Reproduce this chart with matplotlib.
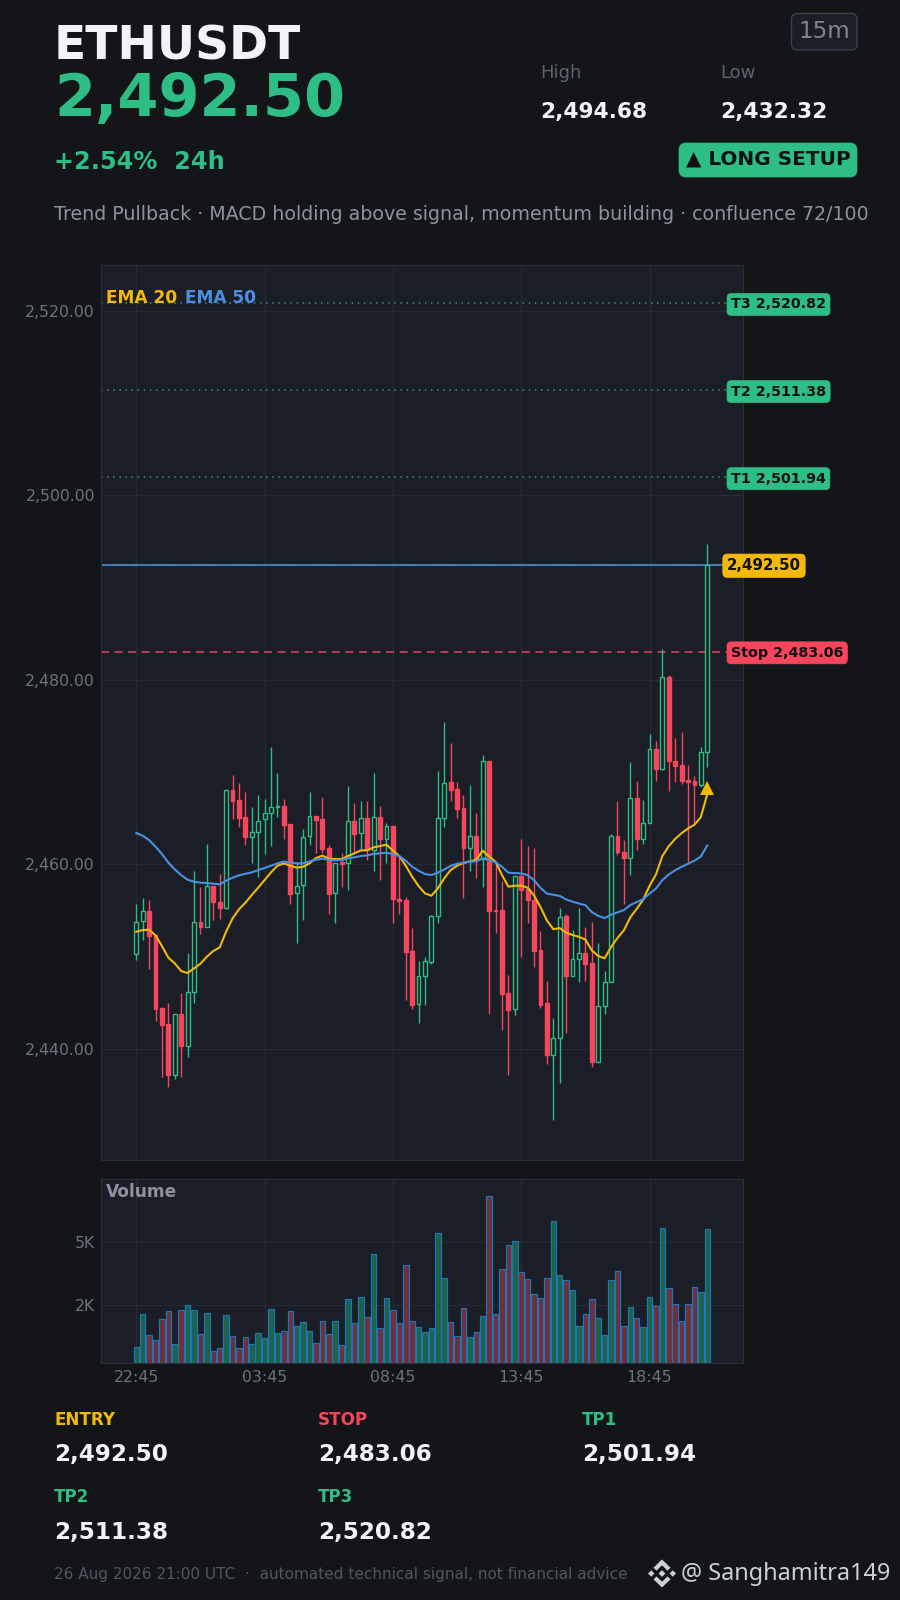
import matplotlib
matplotlib.use("Agg")
import matplotlib.pyplot as plt
from matplotlib.patches import FancyBboxPatch, Polygon
from matplotlib.ticker import FixedLocator, FuncFormatter, NullLocator

# ---------- data ----------
symbol = "ETHUSDT"
last_price = 2492.50
change_text = "+2.54%  24h"
high_24h = 2494.68
low_24h = 2432.32
entry = 2492.50
stop = 2483.06
tp1 = 2501.94
tp2 = 2511.38
tp3 = 2520.82
signal_price = 2468.3
tick_idx = [0, 20, 40, 60, 80]
tick_times = ["22:45", "03:45", "08:45", "13:45", "18:45"]
price_ticks = [2440, 2460, 2480, 2500, 2520]
volume_ticks = [2000, 5000]

opens = [2450.24,2453.82,2454.90,2452.30,2444.38,2442.69,2437.20,2443.77,2440.34,2446.19,
 2453.71,2453.24,2457.61,2455.91,2455.30,2468.05,2466.97,2465.09,2463.00,2463.47,
 2464.87,2465.52,2466.25,2466.28,2464.33,2456.85,2457.72,2463.03,2465.24,2464.91,
 2461.73,2456.85,2460.21,2460.10,2464.66,2463.36,2465.02,2461.55,2465.09,2462.78,
 2464.12,2456.24,2456.13,2450.57,2444.82,2447.86,2449.44,2454.36,2464.98,2468.89,
 2468.12,2466.06,2461.80,2463.07,2460.54,2471.20,2455.04,2455.01,2446.01,2444.28,
 2458.77,2457.30,2456.18,2450.68,2445.00,2439.36,2441.18,2454.38,2447.90,2449.77,
 2450.39,2449.27,2438.61,2444.59,2447.28,2463.05,2461.39,2460.73,2467.16,2462.76,
 2464.50,2472.55,2470.35,2480.27,2471.18,2470.72,2469.15,2469.03,2468.65,2472.14]
closes = [2453.78,2454.90,2452.26,2444.35,2442.62,2437.20,2443.74,2440.34,2446.19,2453.71,
 2453.24,2457.61,2455.95,2455.26,2468.02,2466.90,2465.06,2463.00,2463.47,2464.73,
 2465.52,2466.25,2466.28,2464.30,2456.82,2457.68,2463.00,2465.20,2464.80,2461.69,
 2456.82,2460.18,2460.07,2464.66,2463.32,2464.98,2461.62,2465.09,2462.78,2464.12,
 2456.20,2456.06,2450.53,2444.78,2447.86,2449.48,2454.36,2464.98,2468.85,2468.09,
 2466.03,2461.80,2463.03,2460.54,2471.16,2454.97,2454.97,2445.98,2444.24,2458.77,
 2457.21,2456.16,2450.60,2444.79,2439.32,2441.22,2454.34,2447.90,2449.77,2450.35,
 2449.23,2438.57,2444.59,2447.28,2463.05,2461.39,2460.73,2467.16,2462.76,2464.50,
 2472.55,2470.35,2480.27,2471.18,2470.68,2469.07,2468.90,2468.65,2472.14,2492.50]
highs = [2455.70,2456.38,2456.13,2452.30,2444.38,2444.93,2443.74,2446.08,2450.42,2459.27,
 2457.58,2462.20,2457.61,2458.98,2468.02,2469.72,2468.78,2467.87,2466.25,2467.55,
 2467.08,2472.75,2469.93,2467.11,2464.33,2460.29,2463.86,2467.87,2465.24,2467.33,
 2462.13,2460.18,2461.26,2468.52,2466.68,2466.90,2466.90,2469.93,2466.32,2464.51,
 2464.12,2460.83,2456.42,2453.09,2449.55,2449.92,2454.54,2470.15,2475.46,2473.11,
 2468.89,2467.55,2468.63,2465.52,2471.88,2471.20,2460.10,2458.19,2448.04,2458.77,
 2462.71,2462.01,2461.80,2452.80,2447.36,2443.34,2455.25,2454.63,2452.88,2455.25,
 2453.17,2453.71,2451.43,2448.40,2463.34,2466.91,2462.63,2471.14,2469.07,2466.99,
 2474.13,2473.42,2483.38,2480.56,2473.71,2474.38,2470.73,2469.61,2472.76,2494.68]
lows = [2449.63,2451.79,2448.61,2442.98,2436.98,2435.82,2436.69,2436.98,2439.07,2444.93,
 2452.41,2453.24,2453.96,2454.03,2455.12,2464.87,2464.08,2462.06,2460.10,2458.59,
 2461.08,2461.98,2465.09,2462.71,2455.66,2451.43,2453.96,2462.06,2461.19,2461.19,
 2454.58,2453.60,2457.50,2457.21,2461.37,2461.55,2460.47,2459.31,2458.30,2460.10,
 2453.60,2454.61,2445.29,2444.28,2442.76,2444.71,2449.16,2453.60,2464.01,2466.83,
 2464.98,2456.31,2459.31,2458.48,2457.50,2443.74,2452.52,2442.04,2437.12,2443.63,
 2449.92,2453.59,2448.82,2444.46,2438.40,2432.32,2436.29,2441.76,2447.90,2447.28,
 2447.36,2438.07,2438.61,2443.75,2447.28,2460.98,2455.66,2458.82,2461.60,2462.22,
 2464.50,2469.07,2470.19,2467.90,2468.94,2468.73,2460.23,2464.29,2468.36,2470.52]
ema20 = [2452.70,2452.88,2452.91,2452.30,2451.14,2449.88,2449.26,2448.43,2448.22,2448.72,
 2449.23,2449.99,2450.60,2451.00,2452.70,2454.14,2455.12,2455.84,2456.67,2457.47,
 2458.30,2459.13,2459.85,2460.10,2459.85,2459.64,2459.74,2460.10,2460.68,2460.94,
 2460.61,2460.57,2460.57,2460.90,2461.19,2461.51,2461.51,2461.84,2461.98,2462.13,
 2461.48,2460.90,2459.85,2458.66,2457.65,2456.85,2456.60,2457.39,2458.48,2459.38,
 2459.85,2460.14,2460.32,2460.50,2461.48,2460.83,2460.29,2458.84,2457.58,2457.68,
 2457.68,2457.47,2456.62,2455.37,2453.92,2452.97,2453.09,2452.59,2452.34,2452.14,
 2451.85,2450.68,2450.06,2449.81,2451.02,2452.01,2452.84,2454.25,2455.17,2456.16,
 2457.66,2458.90,2460.89,2461.97,2462.76,2463.38,2463.88,2464.29,2465.12,2467.61]
ema50 = [2463.39,2463.10,2462.63,2461.91,2461.12,2460.18,2459.45,2458.84,2458.33,2458.12,
 2458.01,2457.97,2457.90,2457.83,2458.23,2458.55,2458.80,2458.98,2459.13,2459.38,
 2459.60,2459.85,2460.10,2460.29,2460.21,2460.10,2460.10,2460.32,2460.50,2460.61,
 2460.47,2460.43,2460.47,2460.65,2460.76,2460.90,2460.97,2461.12,2461.19,2461.26,
 2461.12,2460.90,2460.39,2459.74,2459.31,2458.95,2458.84,2459.09,2459.45,2459.82,
 2460.07,2460.18,2460.29,2460.32,2460.65,2460.47,2460.21,2459.74,2459.09,2459.05,
 2459.02,2458.84,2458.28,2457.45,2456.83,2456.70,2456.58,2456.20,2455.95,2455.75,
 2455.58,2454.83,2454.42,2454.17,2454.54,2454.79,2455.04,2455.58,2455.91,2456.20,
 2456.83,2457.37,2458.28,2458.90,2459.36,2459.73,2460.06,2460.39,2460.85,2462.05]
volumes = [1086,1754,1293,1202,1632,1833,1134,1860,2000,1860,
 1312,1781,1024,1070,1729,1274,1070,1256,1134,1331,
 1238,1887,1331,1370,1833,1474,1562,1370,1151,1585,
 1312,1585,1118,2182,1539,2247,1680,4200,1431,2214,
 1860,1539,3579,1585,1452,1350,1431,5698,2963,1562,
 1274,1915,1256,1350,1704,9760,1754,3377,4787,5074,
 3232,2921,2347,2214,2963,6788,3094,2878,2488,1474,
 1754,2182,1656,1293,2878,3279,1474,1942,1656,1452,
 2247,1971,6129,2561,2029,1585,2029,2598,2416,6040]

# ---------- style ----------
BG = "#131519"
PANEL = "#1b1e26"
GRID = "#272b33"
BORDER = "#2b2f38"
GREEN = "#2ebd85"
RED = "#f6465d"
GOLD = "#f0b90b"
BLUE = "#4a90e2"
GREY = "#8b93a1"
DIM = "#5c6370"
WHITE = "#f1f3f6"
TICK = "#6b7280"
DARK = "#0f1115"
plt.rcParams["font.family"] = ["DejaVu Sans"]
W, H = 900, 1600
pt = lambda px: px * 0.72

fig = plt.figure(figsize=(W / 100, H / 100), dpi=100, facecolor=BG)

def panel(l, t, r, b):
    ax = fig.add_axes([l / W, 1 - b / H, (r - l) / W, (b - t) / H], facecolor=PANEL)
    for s in ax.spines.values():
        s.set_color(BORDER)
        s.set_linewidth(0.8)
    ax.tick_params(length=0, colors=TICK)
    ax.set_axisbelow(True)
    ax.grid(True, color=GRID, lw=0.9)
    return ax

XMIN, XMAX = -5.58, 94.57
x = list(range(len(opens)))
bar_w = 0.6

# ---------- price panel ----------
ax = panel(100.5, 264.5, 743, 1160)
ax.set_xlim(XMIN, XMAX)
ax.set_ylim(2427.95, 2525.02)
ax.set_xticks(tick_idx)
ax.set_xticklabels([])
ax.set_yticks(price_ticks)
ax.set_yticklabels([f"{v:,.2f}" for v in price_ticks], fontsize=pt(15.8))
ax.tick_params(axis="y", pad=4)

for lvl in (tp1, tp2, tp3):
    ax.axhline(lvl, color=GREEN, lw=1.1, ls=(0, (1, 3)), alpha=0.8, zorder=2)
ax.axhline(entry, color=GOLD, lw=0.8, ls=(0, (5, 4)), alpha=0.35, zorder=2)
ax.axhline(stop, color=RED, lw=1.15, ls=(0, (5, 3.5)), alpha=0.9, zorder=2)
ax.axhline(last_price, color=BLUE, lw=1.2, alpha=0.95, zorder=2)

for i in x:
    up = closes[i] >= opens[i]
    c = GREEN if up else RED
    ax.vlines(i, lows[i], highs[i], color=c, lw=1.0, zorder=3)
    lo, hi = min(opens[i], closes[i]), max(opens[i], closes[i])
    ax.bar(i, hi - lo, bottom=lo, width=bar_w, color=PANEL if up else RED,
           edgecolor=c, linewidth=1.0, zorder=4)

ax.plot(x, ema20, color=GOLD, lw=1.5, zorder=5)
ax.plot(x, ema50, color=BLUE, lw=1.5, zorder=5)
ax.plot([x[-1]], [signal_price], marker="^", ms=9.5, color=GOLD, mew=0, zorder=6)

def tag(price, text, fc, left_px, size=14.2):
    ax.annotate(text, xy=((left_px - 100.5) / 642.5, price),
                xycoords=ax.get_yaxis_transform(), xytext=(0, -0.9),
                textcoords="offset points",
                ha="left", va="center", fontsize=pt(size), fontweight="bold", color=DARK,
                zorder=8, annotation_clip=False,
                bbox=dict(boxstyle="round,pad=0.28,rounding_size=0.3", fc=fc, ec=fc, lw=0.5))

tag(tp3, f"T3 {tp3:,.2f}", GREEN, 731)
tag(tp2, f"T2 {tp2:,.2f}", GREEN, 731)
tag(tp1, f"T1 {tp1:,.2f}", GREEN, 731)
tag(stop, f"Stop {stop:,.2f}", RED, 731)
tag(last_price, f"{last_price:,.2f}", GOLD, 727, size=15)

# ---------- volume panel ----------
vx = panel(100.5, 1179, 743, 1363)
vx.set_yscale("log")
vx.bar(x, volumes, width=0.86,
       color=["#1f6149" if closes[i] >= opens[i] else "#732e3b" for i in x],
       edgecolor="#1b78b8", linewidth=0.85, zorder=3)
vx.set_xlim(XMIN, XMAX)
vx.set_ylim(861, 12500)
vx.yaxis.set_major_locator(FixedLocator(volume_ticks))
vx.yaxis.set_minor_locator(NullLocator())
vx.yaxis.set_major_formatter(FuncFormatter(lambda v, _: f"{v / 1000:.0f}K"))
vx.tick_params(axis="y", labelsize=pt(15.8), pad=4)
vx.set_xticks(tick_idx)
vx.set_xticklabels(tick_times, fontsize=pt(15.8))
vx.tick_params(axis="x", pad=5)

# ---------- overlay (pixel coordinates) ----------
ov = fig.add_axes([0, 0, 1, 1], facecolor="none", zorder=10)
ov.set_xlim(0, W)
ov.set_ylim(H, 0)
ov.axis("off")

def T(px_x, px_y, s, size, color, weight="normal", ha="left", family=None):
    kw = {"family": family} if family else {}
    ov.text(px_x, px_y, s, fontsize=pt(size), color=color, fontweight=weight,
            ha=ha, va="center", **kw)

def box(l, t, r, b, fc, ec, rad, lw=1.0):
    ov.add_patch(FancyBboxPatch((l + rad, t + rad), r - l - 2 * rad, b - t - 2 * rad,
                                boxstyle=f"round,pad={rad},rounding_size={rad}",
                                fc=fc, ec=ec, lw=lw))

T(54, 47, symbol, 47, WHITE, "bold")
T(54, 100, f"{last_price:,.2f}", 59, GREEN, "bold")
T(54, 162, change_text, 24, GREEN, "bold")
T(540, 72.5, "High", 18, DIM)
T(720, 72.5, "Low", 18, DIM)
T(540, 112, f"{high_24h:,.2f}", 21.6, WHITE, "bold")
T(720, 112, f"{low_24h:,.2f}", 21.6, WHITE, "bold")

box(791.5, 13.5, 857, 50, PANEL, "#3b404b", 6)
T(824.5, 31, "15m", 23, "#7d8593", ha="center")
box(679, 143, 857, 177, GREEN, GREEN, 7, lw=0.5)
T(768, 159.5, "▲ LONG SETUP", 20, DARK, "bold", ha="center")

T(54, 214, "Trend Pullback · MACD holding above signal, momentum building · confluence 72/100",
  19, GREY)

T(105.5, 298, "EMA 20", 17, GOLD, "bold")
T(185, 298, "EMA 50", 17, BLUE, "bold")
T(105.5, 1192, "Volume", 17, GREY, "bold")

for px_x, px_y, label, val, col in [
    (54, 1420, "ENTRY", entry, GOLD), (318, 1420, "STOP", stop, RED), (582, 1420, "TP1", tp1, GREEN),
    (54, 1497, "TP2", tp2, GREEN), (318, 1497, "TP3", tp3, GREEN)]:
    T(px_x, px_y, label, 16.8, col, "bold")
for px_x, px_y, val in [(54, 1455, entry), (318, 1455, stop), (582, 1455, tp1),
                        (54, 1532, tp2), (318, 1532, tp3)]:
    T(px_x, px_y, f"{val:,.2f}", 23, WHITE, "bold")

T(54, 1574, "26 Aug 2026 21:00 UTC  ·  automated technical signal, not financial advice", 15.2, "#4f5661")

# Binance-style diamond logo
LOGO = "#cdd1d7"
cx, cy = 662, 1573.5
def diamond(dx, dy, r):
    ov.add_patch(Polygon([(cx + dx, cy + dy - r), (cx + dx + r, cy + dy),
                          (cx + dx, cy + dy + r), (cx + dx - r, cy + dy)], fc=LOGO, ec="none"))
diamond(-10.8, 0, 3.2)
diamond(10.8, 0, 3.2)
diamond(0, 0, 3.4)
for sy in (-1, 1):
    ov.add_patch(Polygon([(cx, cy + sy * 14), (cx + 8.5, cy + sy * 5.8), (cx + 5.5, cy + sy * 2.9),
                          (cx, cy + sy * 8.2), (cx - 5.5, cy + sy * 2.9), (cx - 8.5, cy + sy * 5.8)],
                         fc=LOGO, ec="none"))
T(681, 1574, "@ Sanghamitra149", 23.5, LOGO, family="Noto Sans")

fig.savefig("out.png", dpi=100, facecolor=BG)
